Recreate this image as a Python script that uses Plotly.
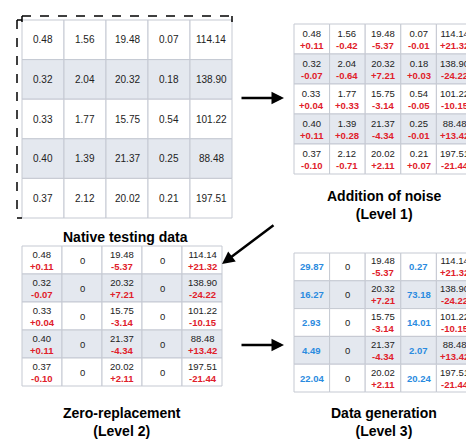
import plotly.graph_objects as go

base = [[0.48,1.56,19.48,0.07,114.14],[0.32,2.04,20.32,0.18,138.90],[0.33,1.77,15.75,0.54,101.22],
        [0.40,1.39,21.37,0.25,88.48],[0.37,2.12,20.02,0.21,197.51]]
noise = [["+0.11","-0.42","-5.37","-0.01","+21.32"],["-0.07","-0.64","+7.21","+0.03","-24.22"],
         ["+0.04","+0.33","-3.14","-0.05","-10.15"],["+0.11","+0.28","-4.34","-0.01","+13.42"],
         ["-0.10","-0.71","+2.11","+0.07","-21.44"]]
generated = {0:["29.87","16.27","2.93","4.49","22.04"], 3:["0.27","73.18","14.01","2.07","20.24"]}
titles = ["Native testing data","Addition of noise<br>(Level 1)","Zero-replacement<br>(Level 2)","Data generation<br>(Level 3)"]

RED="#e0202a"; BLUE="#2a8be0"; DARK="#222"
shapes=[]; ann=[]
def fmt(v): return f"{v:.2f}"

def table(x0,y0,w,h,mode,fs):
    cw=w/5; rh=h/5
    for r in range(5):
        for c in range(5):
            shapes.append(dict(type="rect",x0=x0+c*cw,x1=x0+(c+1)*cw,y0=y0+r*rh,y1=y0+(r+1)*rh,
                               line=dict(color="#c5c9d2",width=1),fillcolor="#e4e8ef" if r%2 else "white",layer="below"))
            cx=x0+(c+0.5)*cw; cy=y0+(r+0.5)*rh
            if mode==0:
                txt=f"<span style='color:{DARK}'>{fmt(base[r][c])}</span>"
            elif (mode>=2 and c==1) or (mode==2 and c==3):
                txt=f"<span style='color:{DARK}'>0</span>"
            elif mode==3 and c in generated:
                txt=f"<span style='color:{BLUE}'><b>{generated[c][r]}</b></span>"
            else:
                txt=f"<span style='color:{DARK}'>{fmt(base[r][c])}</span><br><span style='color:{RED}'><b>{noise[r][c]}</b></span>"
            ann.append(dict(x=cx,y=cy,text=txt,showarrow=False,font=dict(size=fs,family="Liberation Sans"),align="center"))

table(22,20,210,198,0,10)
table(294,24,178,150,1,9.5)
table(22,246,200,140,2,9.5)
table(294,253,178,139,3,9.5)

tf=dict(size=14,family="Liberation Sans",color="black")
ann += [dict(x=125,y=237,text="<b>"+titles[0]+"</b>",showarrow=False,font=tf),
        dict(x=384,y=205,text="<b>"+titles[1]+"</b>",showarrow=False,font=tf),
        dict(x=122,y=422,text="<b>"+titles[2]+"</b>",showarrow=False,font=tf),
        dict(x=384,y=422,text="<b>"+titles[3]+"</b>",showarrow=False,font=tf),
        dict(x=125,y=7,text="Genes",showarrow=False,font=dict(size=13,family="Liberation Sans")),
        dict(x=7,y=95,text="Samples",textangle=-90,showarrow=False,font=dict(size=13,family="Liberation Sans"))]
for (ax,ay,x,y) in [(240,98,284,98),(275,224,222,264),(240,345,284,345)]:
    ann.append(dict(x=x,y=y,ax=ax,ay=ay,xref="x",yref="y",axref="x",ayref="y",text="",showarrow=True,
                    arrowhead=2,arrowsize=1,arrowwidth=2.5,arrowcolor="black"))
shapes += [dict(type="line",x0=22,x1=232,y0=16,y1=16,line=dict(dash="dash",width=1.5,color="black")),
           dict(type="line",x0=22,x1=22,y0=16,y1=22,line=dict(width=1.5,color="black")),
           dict(type="line",x0=232,x1=232,y0=16,y1=22,line=dict(width=1.5,color="black")),
           dict(type="line",x0=17,x1=17,y0=20,y1=218,line=dict(dash="dash",width=1.5,color="black")),
           dict(type="line",x0=17,x1=22,y0=20,y1=20,line=dict(width=1.5,color="black")),
           dict(type="line",x0=17,x1=22,y0=218,y1=218,line=dict(width=1.5,color="black"))]

fig=go.Figure()
fig.update_layout(width=466,height=431,margin=dict(l=0,r=0,t=0,b=0),plot_bgcolor="white",paper_bgcolor="white",
                  shapes=shapes,annotations=ann,
                  xaxis=dict(range=[8,474],visible=False),yaxis=dict(range=[439,8],visible=False))
fig.write_html("out.html")
